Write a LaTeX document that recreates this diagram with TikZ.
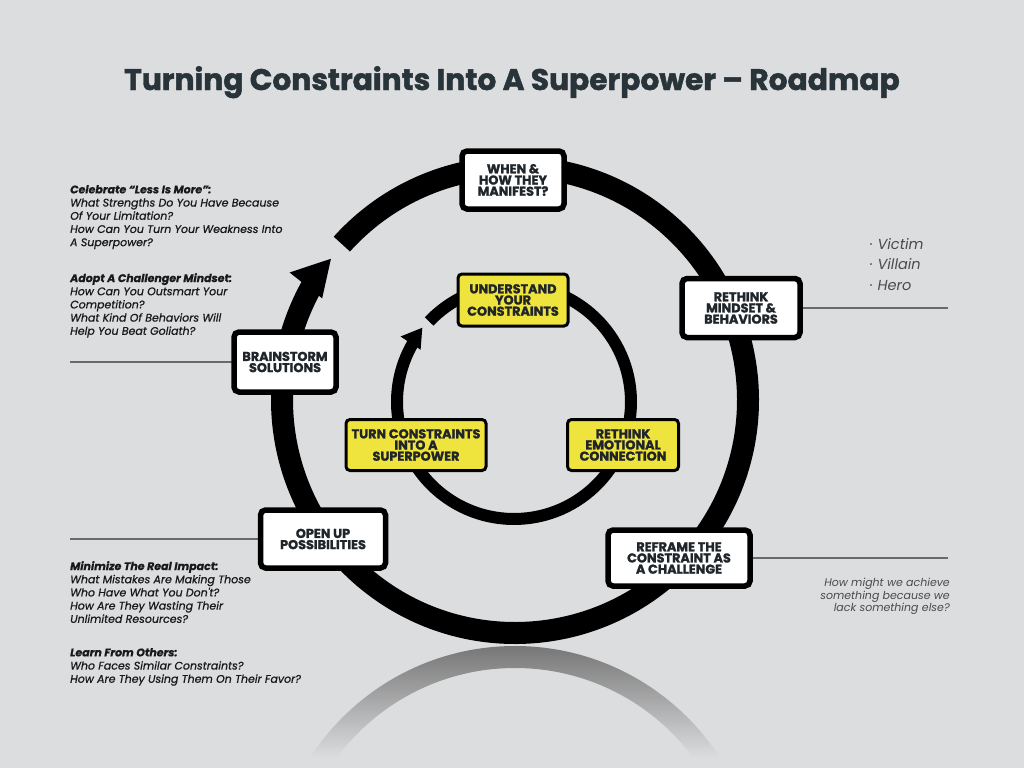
\documentclass[tikz,border=0pt]{standalone}
\usepackage{fontspec}
\setmainfont{Poppins}
\newfontfamily\heavyfont{Poppins}[BoldFeatures={FakeBold=1.6}]
\newfontfamily\mediumfont{Poppins}[FakeBold=0.8]
\usetikzlibrary{calc}
\definecolor{bg}{HTML}{DCDDDF}
\definecolor{titlec}{HTML}{28343A}
\definecolor{boxtext}{HTML}{1F252A}
\definecolor{ylw}{HTML}{EFE33E}
\definecolor{linec}{HTML}{6A6A6A}
\definecolor{greytext}{HTML}{4A4A4A}
\definecolor{refl}{HTML}{767676}
\tikzset{
  whitebox/.style={draw=black, line width=5.5pt, rounded corners=5pt, fill=white,
    align=center, inner sep=0pt, text=boxtext,
    font=\heavyfont\fontsize{12.8}{11.2}\selectfont\bfseries},
  yellowbox/.style={draw=black, line width=3pt, rounded corners=4pt, fill=ylw,
    align=center, inner sep=0pt, text=boxtext,
    font=\heavyfont\fontsize{12.8}{11.2}\selectfont\bfseries},
  conn/.style={draw=linec, line width=1.3pt},
  sidetext/.style={anchor=north west, align=left, inner sep=0pt, text=black!90,
    font=\mediumfont\fontsize{11}{13.2}\selectfont\itshape},
}
\begin{document}
\begin{tikzpicture}[x=1pt,y=1pt]
\fill[bg] (0,0) rectangle (1024,-768);
\useasboundingbox (0,0) rectangle (1024,-768);

% title
\node[anchor=base, text=titlec, font=\heavyfont\fontsize{29.7}{34}\selectfont\bfseries] (title) at (512,-90)
  {Turning Constraints Into A Superpower – Roadmap};

% reflection
\begin{scope}[even odd rule]
  \clip (515,-890) circle[radius=244pt] (515,-890) circle[radius=222pt];
  \shade[top color=refl, bottom color=bg] (280,-645) rectangle (750,-758);
\end{scope}

% outer ring
\coordinate (oc) at (515,-400);
\draw[line width=22pt] ($(oc)+(138:233pt)$) arc[start angle=138, end angle=-209, radius=233pt];
\fill ($(oc)+(142.5:232pt)$) -- ($(oc)+(150.5:259pt)$) -- ($(oc)+(152.2:218pt)$) -- cycle;

% inner ring
\coordinate (ic) at (514,-402);
\draw[line width=12pt] ($(ic)+(136.5:117pt)$) arc[start angle=136.5, end angle=-210, radius=117pt];
\fill ($(ic)+(141:118pt)$) -- ($(ic)+(150:131pt)$) -- ($(ic)+(150.8:107pt)$) -- cycle;

% connector lines (behind boxes)
\coordinate (l1) at (70,-362);
\coordinate (l2) at (70,-539);
\coordinate (r1) at (948,-308);
\coordinate (r2) at (948,-558);
\coordinate (brainw) at (285,-362);
\coordinate (openw) at (323,-539);
\coordinate (mindw) at (741,-308);
\coordinate (refw) at (679,-558);
\draw[conn] (brainw) -- (l1);
\draw[conn] (openw) -- (l2);
\draw[conn] (mindw) -- (r1);
\draw[conn] (refw) -- (r2);

% outer boxes
\node[whitebox, minimum width=102pt, minimum height=58pt] (when) at (513,-180) {WHEN \&\\HOW THEY\\MANIFEST?};
\node[whitebox, minimum width=118pt, minimum height=59pt] (mind) at (741,-308) {RETHINK\\MINDSET \&\\BEHAVIORS};
\node[whitebox, minimum width=142pt, minimum height=56pt] (reframe) at (679,-558) {REFRAME THE\\CONSTRAINT AS\\A CHALLENGE};
\node[whitebox, minimum width=125pt, minimum height=58pt] (openup) at (323,-539) {OPEN UP\\POSSIBILITIES};
\node[whitebox, minimum width=102pt, minimum height=60pt] (brain) at (285,-362) {BRAINSTORM\\SOLUTIONS};

% inner boxes
\node[yellowbox, minimum width=110pt, minimum height=52pt] (understand) at (513,-300) {UNDERSTAND\\YOUR\\CONSTRAINTS};
\node[yellowbox, minimum width=111pt, minimum height=51pt] (emot) at (623,-445) {RETHINK\\EMOTIONAL\\CONNECTION};
\node[yellowbox, minimum width=140pt, minimum height=51pt] (turn) at (416,-445) {TURN CONSTRAINTS\\INTO A\\SUPERPOWER};

% left text blocks
\node[sidetext] (t1) at (70,-185) {{\bfseries Celebrate “Less Is More”:}\\What Strengths Do You Have Because\\Of Your Limitation?\\How Can You Turn Your Weakness Into\\A Superpower?};
\node[sidetext] (t2) at (70,-273) {{\bfseries Adopt A Challenger Mindset:}\\How Can You Outsmart Your\\Competition?\\What Kind Of Behaviors Will\\Help You Beat Goliath?};
\node[sidetext] (t3) at (70,-561) {{\bfseries Minimize The Real Impact:}\\What Mistakes Are Making Those\\Who Have What You Don't?\\How Are They Wasting Their\\Unlimited Resources?};
\node[sidetext] (t4) at (70,-648) {{\bfseries Learn From Others:}\\Who Faces Similar Constraints?\\How Are They Using Them On Their Favor?};

% right texts
\node[anchor=north west, align=left, inner sep=0pt, text=greytext,
  font=\fontsize{14.5}{20.5}\selectfont\itshape] (vvh) at (870,-238) {· Victim\\· Villain\\· Hero};
\node[anchor=north east, align=right, inner sep=0pt, text=greytext,
  font=\fontsize{11}{12.6}\selectfont\itshape] (hm) at (950,-578) {How might we achieve\\something because we\\lack something else?};
\end{tikzpicture}
\end{document}
